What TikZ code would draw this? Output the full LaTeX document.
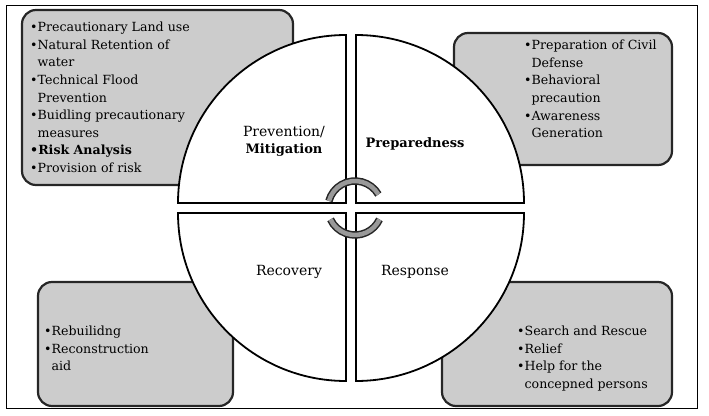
\documentclass[tikz,border=0pt]{standalone}
\usepackage{fontspec}
\setmainfont{DejaVu Serif}
\begin{document}
\begin{tikzpicture}[x=1pt,y=-1pt,
  box/.style={draw=black!85,line width=2.2pt,fill=black!20,rounded corners=14pt},
  quad/.style={draw=black,line width=1.8pt,fill=white},
  list/.style={anchor=north west,align=left,inner sep=0pt,font=\fontsize{12.6}{17.6}\selectfont},
  lab/.style={align=center,inner sep=0pt,font=\fontsize{14}{17}\selectfont},
  arrout/.style={line width=7.5pt,black!85},
  arrin/.style={line width=4.5pt,black!40}]
\useasboundingbox (0,0) rectangle (709,415);
\draw[line width=1pt] (6,5) rectangle (697,408);
% boxes
\draw[box] (22,10) rectangle (293,185);
\draw[box] (454,33) rectangle (672,165);
\draw[box] (38,282) rectangle (233,406);
\draw[box] (442,282) rectangle (672,406);
% quadrants
\draw[quad] (346,203) -- (178,203) arc[start angle=180,end angle=270,radius=168] -- cycle;
\draw[quad] (356,203) -- (356,35) arc[start angle=270,end angle=360,radius=168] -- cycle;
\draw[quad] (346,213) -- (346,381) arc[start angle=90,end angle=180,radius=168] -- cycle;
\draw[quad] (356,213) -- (524,213) arc[start angle=0,end angle=90,radius=168] -- cycle;
% circular arrows
\coordinate (c) at (355,208);
\draw[arrout] ([shift={(-165:27)}]c) arc[start angle=-165,end angle=-30,radius=27];
\draw[arrin] ([shift={(-165:27)}]c) arc[start angle=-165,end angle=-30,radius=27];
\draw[arrout] ([shift={(155:27)}]c) arc[start angle=155,end angle=25,radius=27];
\draw[arrin] ([shift={(155:27)}]c) arc[start angle=155,end angle=25,radius=27];
% labels
\node[lab] (pm) at (284,141) {Prevention/\\{\fontsize{13}{17}\selectfont\textbf{Mitigation}}};
\node[lab,font=\fontsize{13}{17}\selectfont\bfseries] (pp) at (415,144) {Preparedness};
\node[lab] (rc) at (289,272) {Recovery};
\node[lab] (rs) at (415,272) {Response};
% lists
\node[list] (l1) at (30,22) {•Precautionary Land use\\•Natural Retention of\\\phantom{•}water\\•Technical Flood\\\phantom{•}Prevention\\•Buidling precautionary\\\phantom{•}measures\\\textbf{•Risk Analysis}\\•Provision of risk};
\node[list] (l2) at (524,40) {•Preparation of Civil\\\phantom{•}Defense\\•Behavioral\\\phantom{•}precaution\\•Awareness\\\phantom{•}Generation};
\node[list] (l3) at (44,326) {•Rebuilidng\\•Reconstruction\\\phantom{•}aid};
\node[list] (l4) at (517,326) {•Search and Rescue\\•Relief\\•Help for the\\\phantom{•}concepned persons};
\end{tikzpicture}
\end{document}
